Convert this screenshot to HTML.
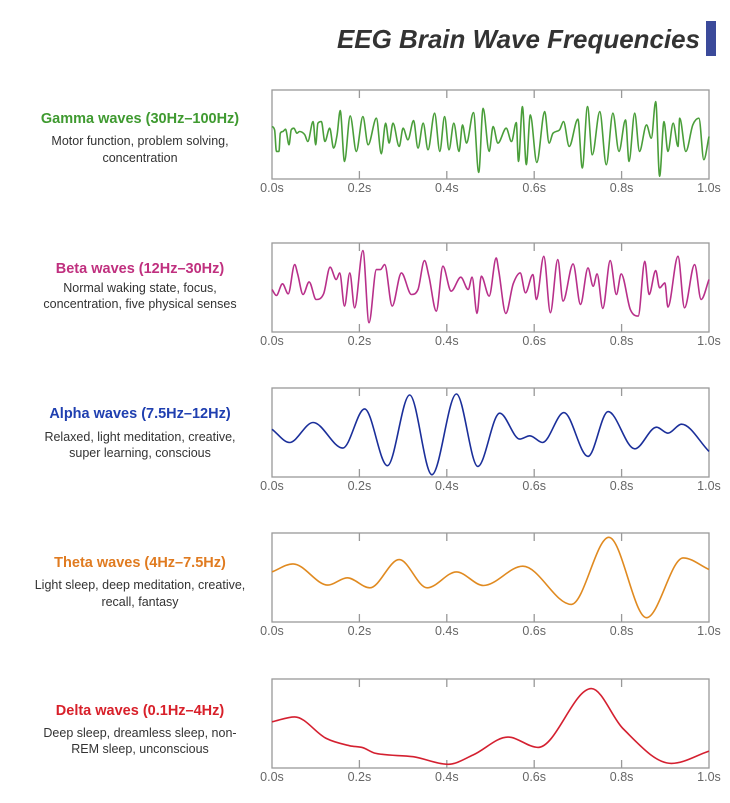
<!DOCTYPE html>
<html><head><meta charset="utf-8"><style>
body{margin:0;background:#fff;}
svg{display:block;font-family:"Liberation Sans",sans-serif;}
</style></head><body>
<svg id="c" width="730" height="803" viewBox="0 0 730 803">
<text x="700" y="48" text-anchor="end" font-size="26" font-weight="bold" font-style="italic" fill="#333" textLength="363" lengthAdjust="spacingAndGlyphs">EEG Brain Wave Frequencies</text>
<rect x="706" y="21" width="10" height="35" fill="#3b4a9a"/>
</svg>
<script>
// time in ms, amplitude in arbitrary units (domain ±134)
const tickLabels = ["0.0s","0.2s","0.4s","0.6s","0.8s","1.0s"];
const tickValues = [0,200,400,600,800,1000];
const gammaT = [0,6,10,16,19,25,31,39,44,50,57,63,75,82,94,100,105,113,121,132,141,149,156,166,179,193,208,220,239,250,260,268,277,291,300,311,324,334,346,357,372,384,395,405,416,428,436,445,461,473,483,497,506,517,536,548,559,564,573,582,591,606,624,634,643,658,667,680,700,710,722,733,750,765,780,794,809,817,830,841,857,868,878,887,897,906,918,929,933,947,963,977,988,1000];
const gammaV = [24,14,-51,-51,4,9,16,-31,14,19,4,9,-1,-21,39,-31,34,39,-21,19,-41,-1,72,-81,56,-51,54,-31,49,-58,34,-26,34,-36,19,-16,42,-41,34,-46,64,-51,54,-46,34,-51,29,-26,66,-114,79,-51,24,-26,19,-21,36,-81,84,-91,59,-84,69,-26,4,14,39,-36,46,-101,84,-61,69,-91,64,-51,44,-81,64,-51,29,-11,99,-126,39,-51,34,-36,49,-51,29,49,-76,-6];
const betaT = [0,10,24,37,52,59,71,85,101,118,133,147,155,166,178,189,208,222,239,248,258,275,296,319,334,349,359,376,391,410,432,449,458,469,479,497,513,519,535,552,568,580,597,605,622,637,654,666,689,706,723,735,744,757,774,788,799,820,838,853,863,878,887,899,906,929,944,967,982,1000];
const betaV = [-6,-24,11,-19,69,39,-21,17,-36,-19,61,24,44,-56,44,-61,111,-106,54,54,69,-56,44,-21,-6,81,34,-71,64,-11,31,-6,31,-78,34,-26,89,49,-78,11,44,-16,39,-36,94,-76,84,-41,71,-51,59,4,41,-63,81,-21,41,-66,-86,79,-21,51,-1,14,-59,94,-61,69,-36,24];
const alphaT = [0,40,94,162,212,264,315,366,422,471,521,567,590,619,668,723,769,830,880,906,937,1000];
const alphaV = [10,-30,30,-47,71,-100,113,-127,116,-102,58,-20,-10,-30,60,-72,63,-49,16,-2,25,-57];
const thetaT = [0,48,128,172,224,291,355,422,484,574,685,771,857,941,1000];
const thetaV = [17,41,-23,-1,-31,54,-31,17,-24,34,-81,121,-121,59,24];
const deltaT = [0,52,124,178,208,235,323,403,460,540,609,731,803,914,1000];
const deltaV = [5,20,-45,-67,-73,-89,-100,-123,-95,-41,-72,105,-15,-120,-83];

const panels = [
 {key:"gamma",T:gammaT,V:gammaV,top:90,color:"#4a9e3a",tcol:"#3f9a30",title:"Gamma waves (30Hz–100Hz)",desc:["Motor function, problem solving,","concentration"],ty:[118,141,158]},
 {key:"beta",T:betaT,V:betaV,top:243,color:"#b8308a",tcol:"#c0307f",title:"Beta waves (12Hz–30Hz)",desc:["Normal waking state, focus,","concentration, five physical senses"],ty:[268,288,304]},
 {key:"alpha",T:alphaT,V:alphaV,top:388,color:"#1b2f9a",tcol:"#1f3fb0",title:"Alpha waves (7.5Hz–12Hz)",desc:["Relaxed, light meditation, creative,","super learning, conscious"],ty:[413,437,453]},
 {key:"theta",T:thetaT,V:thetaV,top:533,color:"#e08a20",tcol:"#e07b20",title:"Theta waves (4Hz–7.5Hz)",desc:["Light sleep, deep meditation, creative,","recall, fantasy"],ty:[562,585,602]},
 {key:"delta",T:deltaT,V:deltaV,top:679,color:"#d42030",tcol:"#d8202a",title:"Delta waves (0.1Hz–4Hz)",desc:["Deep sleep, dreamless sleep, non-","REM sleep, unconscious"],ty:[710,733,749]}
];
const X0=272,X1=709,H=89;
const svg=document.getElementById('c');
const NS="http://www.w3.org/2000/svg";
function mk(tag,attrs,parent){const e=document.createElementNS(NS,tag);for(const k in attrs)e.setAttribute(k,attrs[k]);(parent||svg).appendChild(e);return e;}
function xs(t){return X0+(t/1000)*(X1-X0);}
function monoPath(px,py){
 const n=px.length;const d=[],m=new Array(n);
 for(let i=0;i<n-1;i++)d.push((py[i+1]-py[i])/(px[i+1]-px[i]||1e-6));
 m[0]=d[0];m[n-1]=d[n-2];
 for(let i=1;i<n-1;i++){m[i]=(d[i-1]*d[i]<=0)?0:(d[i-1]+d[i])/2;}
 for(let i=0;i<n-1;i++){if(d[i]===0){m[i]=0;m[i+1]=0;continue;}const a=m[i]/d[i],b=m[i+1]/d[i],s=a*a+b*b;if(s>9){const tt=3/Math.sqrt(s);m[i]=tt*a*d[i];m[i+1]=tt*b*d[i];}}
 let p="M"+px[0].toFixed(1)+","+py[0].toFixed(1);
 for(let i=0;i<n-1;i++){const h=(px[i+1]-px[i])/3;p+=" C"+(px[i]+h).toFixed(1)+","+(py[i]+m[i]*h).toFixed(1)+" "+(px[i+1]-h).toFixed(1)+","+(py[i+1]-m[i+1]*h).toFixed(1)+" "+px[i+1].toFixed(1)+","+py[i+1].toFixed(1);}
 return p;
}
panels.forEach(p=>{
 const g=mk('g',{});
 
 
 const ys=v=>p.top+H/2-(v/134)*(H/2);
 const box=mk('rect',{x:X0,y:p.top,width:X1-X0,height:H,fill:'none',stroke:'#999','stroke-width':1.3},g);
 
 
 tickValues.forEach((tv,i)=>{
  const x=xs(tv);
  if(i>0&&i<tickValues.length-1){
   const t1=mk('line',{x1:x,x2:x,y1:p.top,y2:p.top+8,stroke:'#999','stroke-width':1.3},g);
   
   
   const t2=mk('line',{x1:x,x2:x,y1:p.top+H-8,y2:p.top+H,stroke:'#999','stroke-width':1.3},g);
   
   
  }
  const lb=mk('text',{x:x,y:p.top+H+13,'text-anchor':'middle','font-size':12.5,fill:'#666'},g);
  lb.textContent=tickLabels[i];
  
  
 });
 const line=mk('path',{d:monoPath(p.T.map(xs),p.V.map(ys)),fill:'none',stroke:p.color,'stroke-width':1.6,'stroke-linejoin':'round'},g);
 
 
 const tt=mk('text',{x:140,y:p.ty[0]+5,'text-anchor':'middle','font-size':14.5,'font-weight':'bold',fill:p.tcol},g);
 tt.textContent=p.title;
 
 
 p.desc.forEach((d,i)=>{
  const dt=mk('text',{x:140,y:p.ty[i+1]+4,'text-anchor':'middle','font-size':12.5,fill:'#333'},g);
  dt.textContent=d;
  
  
 });
});
</script>
</body></html>
